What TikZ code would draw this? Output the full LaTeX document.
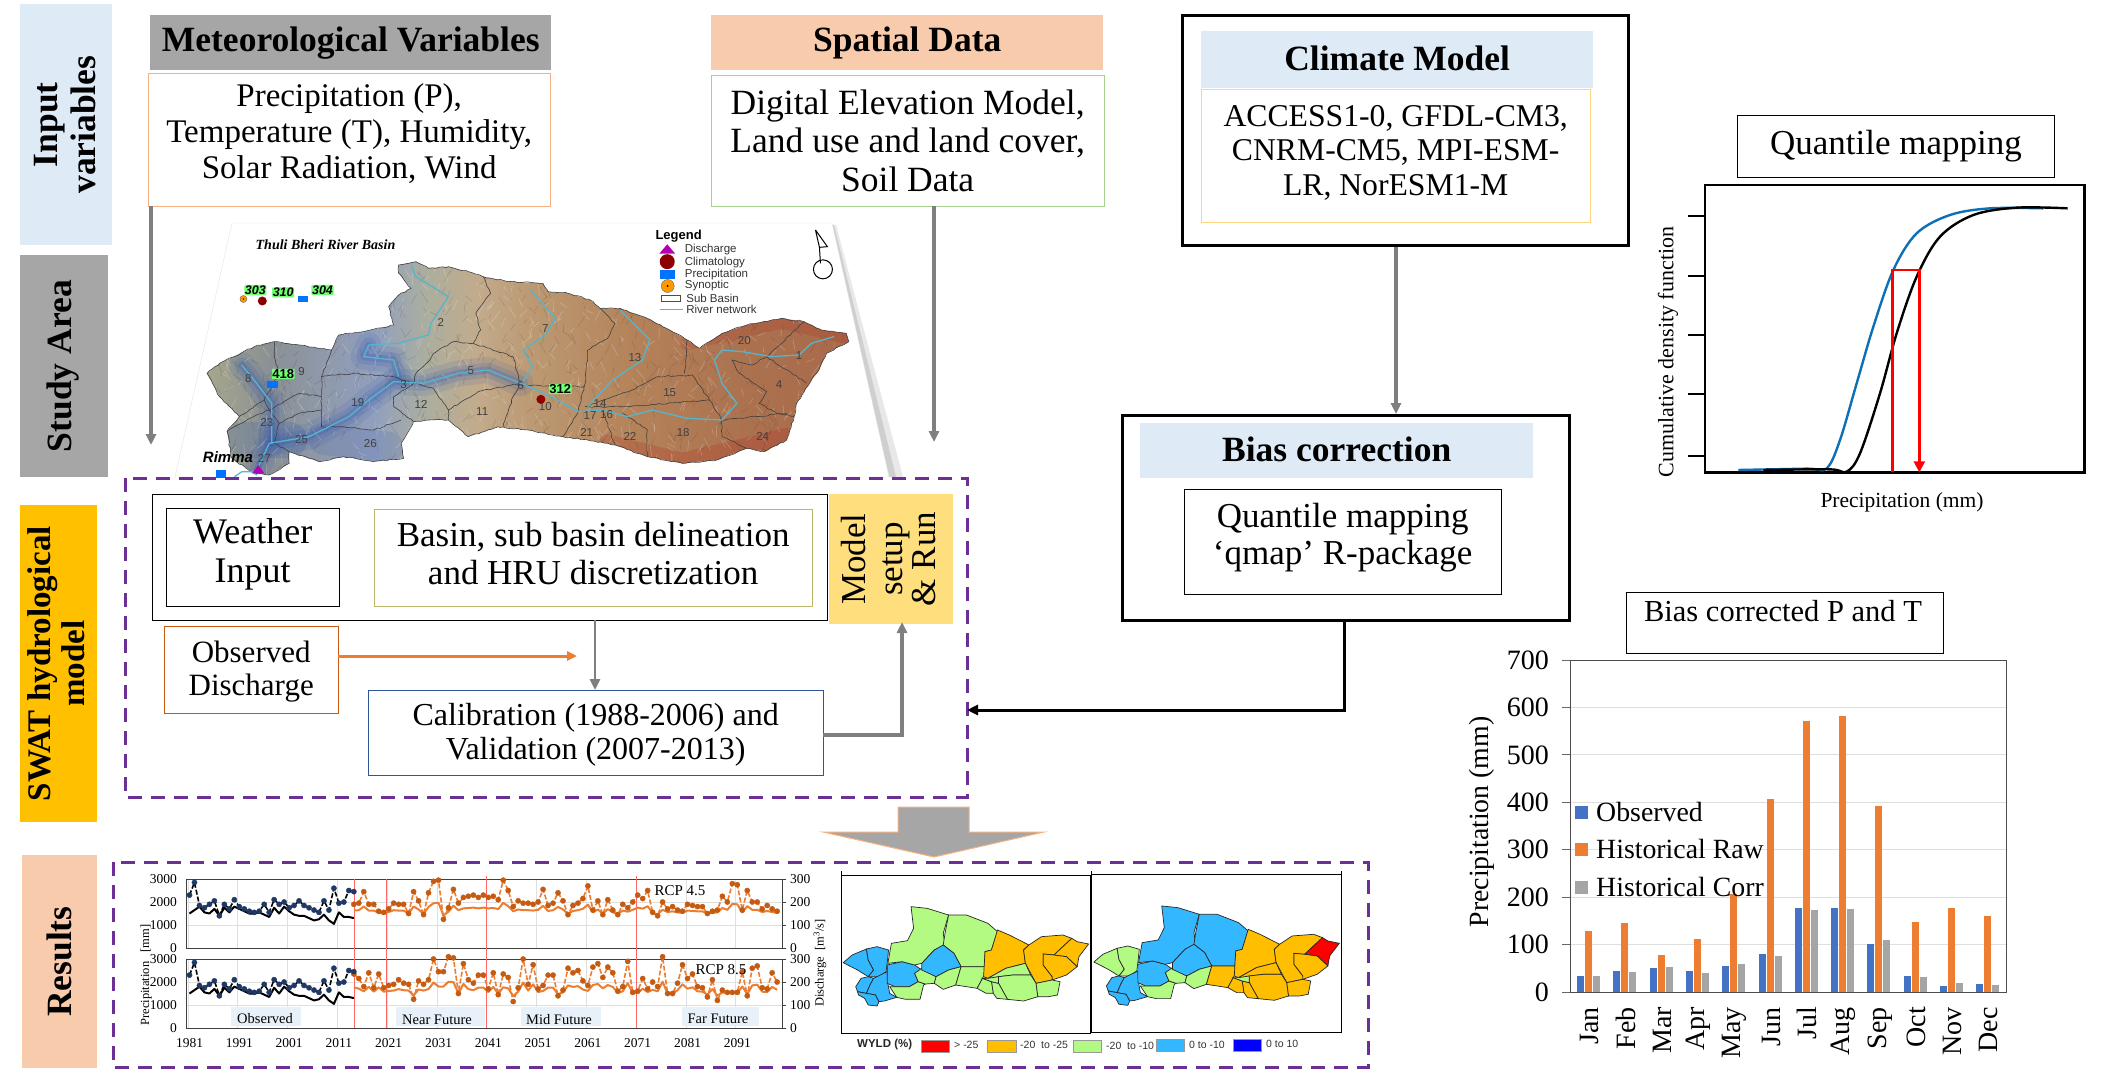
\documentclass[tikz,border=0pt]{standalone}
\usepackage{fontspec}
\setmainfont{Liberation Serif}
\setsansfont{Liberation Sans}
\usetikzlibrary{arrows.meta,shapes.geometric,calc,decorations.pathmorphing}
\definecolor{inblue}{HTML}{DEEBF7}
\definecolor{grayhd}{HTML}{A6A6A6}
\definecolor{peach}{HTML}{F8CBAD}
\definecolor{gold}{HTML}{FFC000}
\definecolor{lgold}{HTML}{FFD966}
\definecolor{purp}{HTML}{6B2F96}
\definecolor{brd1}{HTML}{F4B183}
\definecolor{brd2}{HTML}{A9D18E}
\definecolor{brd3}{HTML}{FFE699}
\definecolor{brd4}{HTML}{C55A11}
\definecolor{brd5}{HTML}{2F5597}
\definecolor{brd6}{HTML}{BDB76B}
\definecolor{arrgray}{HTML}{7F7F7F}
\definecolor{mB}{HTML}{33B8FF}
\definecolor{mG}{HTML}{B3FA82}
\definecolor{mO}{HTML}{FFBE00}
\definecolor{ob}{HTML}{4472C4}
\definecolor{or}{HTML}{ED7D31}
\definecolor{gr}{HTML}{A5A5A5}
\definecolor{navy1}{HTML}{1F3864}
\definecolor{dor}{HTML}{C55A11}
\definecolor{riv}{HTML}{56B4CC}
\definecolor{line1}{HTML}{0F6FB5}
\definecolor{tA}{HTML}{A6A78C}
\definecolor{tB}{HTML}{8A9094}
\definecolor{tC}{HTML}{8F99AA}
\definecolor{tD}{HTML}{919FBE}
\definecolor{tE}{HTML}{ABAE9F}
\definecolor{tF}{HTML}{C2AB8C}
\definecolor{tG}{HTML}{BC9A74}
\definecolor{tH}{HTML}{B4835A}
\definecolor{tI}{HTML}{AC7350}
\definecolor{tJ}{HTML}{A8694A}
\definecolor{valley}{HTML}{2F55B0}
\pgfdeclarehorizontalshading{terrain}{100bp}{
 color(0bp)=(tA);
 color(25bp)=(tA);
 color(30bp)=(tB);
 color(34bp)=(tC);
 color(38bp)=(tD);
 color(42bp)=(tE);
 color(46bp)=(tF);
 color(50bp)=(tG);
 color(58bp)=(tH);
 color(66bp)=(tI);
 color(75bp)=(tJ);
 color(100bp)=(tJ)}
\tikzset{
 fx/.code={\pgfmathsetmacro\fb{#1*1.08}\edef\tmpf{\noexpand\tikzset{font=\noexpand\fontsize{#1}{\fb}\noexpand\selectfont}}\tmpf},
 tbox/.style={draw,anchor=north west,inner sep=0pt,align=center},
 tx/.style={inner sep=0pt,align=center},
 hd/.style={anchor=north west,inner sep=0pt,align=center,font=\fontsize{35.5}{38}\selectfont\bfseries},
 sidebar/.style={anchor=north west,inner sep=0pt},
 sidetext/.style={rotate=90,align=center,font=\fontsize{35.5}{38}\selectfont\bfseries},
 garrow/.style={draw=arrgray,line width=3.2pt,-{Triangle[length=11pt,width=10pt]}},
 pdash/.style={draw=purp,line width=3pt,dash pattern=on 14pt off 9pt},
 reg/.style={draw=black!70!gray,line width=.7pt},
 stn/.style={font=\fontsize{12.5}{13}\selectfont\sffamily\bfseries\itshape,fill=green!55!white,inner sep=.6pt,rounded corners=1pt},
 snum/.style={font=\fontsize{11.5}{12}\selectfont\sffamily,text=black!75,inner sep=0pt},
 leg/.style={font=\fontsize{11.5}{12}\selectfont\sffamily,anchor=west,inner sep=0pt,text=black!80},
 subl/.style={draw=black!75,line width=.6pt,decorate,decoration={random steps,segment length=3.5pt,amplitude=.7pt}},
 rivl/.style={draw=riv,line width=1.3pt,line join=round},
 tick/.style={font=\fontsize{13.5}{14}\selectfont,inner sep=0pt},
 wl/.style={font=\fontsize{10.5}{11}\selectfont\sffamily,anchor=west,inner sep=0pt,text=black!80},
 mon/.style={rotate=90,anchor=east,font=\fontsize{28}{28}\selectfont,inner sep=0pt},
 ylab/.style={anchor=east,font=\fontsize{28}{28}\selectfont,inner sep=0pt},
}
\newcommand\smallmap[9]{%
 \begin{scope}[shift={(820+#1,800+#2)},x=0.35714pt,y=-0.33333pt]
 \filldraw[reg,fill=#3] (65,488)--(90,465)--(130,447)--(135,480)--(150,510)--(135,530)--(105,510)--cycle;
 \filldraw[reg,fill=#3] (130,447)--(160,440)--(192,450)--(188,490)--(185,515)--(165,530)--(135,530)--(150,510)--(135,480)--cycle;
 \filldraw[reg,fill=#4] (135,530)--(150,535)--(140,555)--(130,580)--(105,575)--(100,560)--(115,535)--cycle;
 \filldraw[reg,fill=#4] (150,535)--(188,515)--(190,550)--(195,580)--(215,592)--(180,603)--(165,605)--(155,585)--(130,580)--(140,555)--cycle;
 \filldraw[reg,fill=#4] (130,580)--(155,585)--(165,605)--(160,618)--(135,615)--(125,595)--(108,585)--(105,575)--cycle;
 \filldraw[reg,fill=#4] (188,495)--(230,485)--(265,495)--(285,510)--(265,520)--(275,545)--(250,560)--(210,560)--(188,550)--cycle;
 \filldraw[reg,fill=mG] (195,560)--(210,560)--(250,560)--(275,545)--(295,552)--(290,555)--(280,598)--(240,598)--(215,592)--cycle;
 \filldraw[reg,fill=mG] (265,520)--(285,505)--(325,530)--(320,550)--(295,552)--(275,545)--cycle;
 \filldraw[reg,fill=#5] (190,490)--(200,430)--(245,422)--(262,385)--(255,320)--(300,325)--(360,345)--(345,400)--(350,435)--(320,450)--(285,490)--(265,495)--(230,485)--cycle;
 \filldraw[reg,fill=#5] (360,345)--(410,345)--(470,370)--(497,395)--(480,450)--(462,455)--(460,500)--(395,500)--(375,460)--(345,435)--(350,400)--cycle;
 \filldraw[reg,fill=mB] (285,490)--(320,450)--(345,435)--(375,460)--(395,500)--(360,510)--(325,530)--(285,510)--cycle;
 \filldraw[reg,fill=mG] (325,530)--(360,510)--(395,500)--(380,555)--(345,568)--(320,550)--cycle;
 \filldraw[reg,fill=#6] (395,500)--(460,500)--(462,520)--(455,535)--(440,565)--(380,555)--cycle;
 \filldraw[reg,fill=mO] (497,390)--(530,405)--(585,435)--(570,450)--(575,490)--(520,505)--(470,535)--(458,530)--(462,455)--(480,450)--cycle;
 \filldraw[reg,fill=mO] (585,435)--(620,410)--(680,405)--(705,415)--(655,465)--(625,462)--(625,495)--(650,530)--(650,540)--(605,550)--(575,490)--(570,450)--cycle;
 \filldraw[reg,fill=#7] (705,415)--(720,425)--(752,432)--(725,470)--(720,500)--(690,470)--(655,465)--cycle;
 \filldraw[reg,fill=mO] (625,462)--(655,465)--(690,470)--(720,500)--(690,525)--(650,540)--(650,530)--(625,495)--cycle;
 \filldraw[reg,fill=#8] (470,535)--(520,505)--(575,490)--(590,525)--(540,525)--(500,530)--(480,535)--cycle;
 \filldraw[reg,fill=#8] (500,550)--(500,530)--(540,525)--(590,525)--(605,550)--(610,590)--(570,603)--(525,598)--cycle;
 \filldraw[reg,fill=#8] (605,550)--(650,540)--(672,545)--(665,585)--(640,590)--(610,590)--cycle;
 \filldraw[reg,fill=#8] (480,545)--(500,550)--(525,598)--(495,595)--(485,580)--cycle;
 \filldraw[reg,fill=#8] (440,565)--(455,535)--(480,545)--(485,580)--(465,580)--cycle;
 \filldraw[reg,fill=#9] (455,535)--(470,535)--(500,530)--(500,550)--(480,545)--cycle;
 \end{scope}}
\newcommand\mkseries[3]{%
 \gdef\pth{}\foreach \v [count=\i from 0] in #2 {%
  \pgfmathsetmacro\xx{189.5+4.98*(#1+\i-1981)}%
  \pgfmathsetmacro\yy{#3-\v*0.023}%
  \xdef\pth{\pth (\xx,\yy)}}}
\newcommand\mkfuture[3]{%
 \gdef\pth{}\foreach \v [count=\i from 0] in #2 {%
  \pgfmathsetmacro\xx{189.5+4.98*(#1+\i-1981)}%
  \pgfmathsetmacro\yy{#3-(1020+0.32*\v)*0.023}%
  \xdef\pth{\pth (\xx,\yy)}}}
\newcommand\chartpanel[2]{%
 \mkfuture{2014}{#2}{#1}
 \draw[or,line width=2pt,line join=round] plot coordinates {\pth};
 \mkseries{2014}{#2}{#1}
 \draw[or,line width=1.6pt,dash pattern=on 5pt off 2pt,line join=round] plot coordinates {\pth};
 \fill[dor] plot[only marks,mark=*,mark size=2.6pt] coordinates {\pth};
 \mkseries{1981}{\obsS}{#1}
 \draw[black,line width=2pt,line join=round] plot coordinates {\pth};
 \mkseries{1981}{\obsD}{#1}
 \draw[black,line width=1.6pt,dash pattern=on 5pt off 2pt,line join=round] plot coordinates {\pth};
 \fill[navy1] plot[only marks,mark=*,mark size=2.6pt] coordinates {\pth};
}
\def\obsD{2300,2850,1850,1750,1900,2050,1400,1900,1700,2100,1800,1700,1600,1550,1600,1900,1550,2100,1900,2000,1750,1850,2050,1850,1750,1650,1550,2050,1650,2600,1950,2000,2500,2450}
\def\obsS{1500,1650,1800,1550,1500,1700,1400,1750,1550,1800,1700,1600,1500,1500,1550,1450,1350,1750,1500,1800,1600,1450,1400,1400,1300,1200,1250,1450,1200,1050,1550,1350,1350,1300}
\def\fA{1900,1950,2450,1900,1900,1600,1550,1700,1950,1900,1900,1500,2450,2050,1450,2400,2900,2950,1250,1750,2550,1950,2200,2250,2300,2200,2300,2200,2250,2100,2950,2500,1800,2050,1950,1950,1900,2000,2550,1850,1950,2400,2050,1450,1850,1950,2150,2700,1650,2050,1450,2100,1650,1450,1900,1750,2000,2300,2150,2500,1550,1400,2000,1700,1800,1650,1600,1900,1850,1800,1800,1500,1600,1650,2250,2000,2800,2750,1650,2500,2000,2000,1700,1850,1700,1600}
\def\fB{2350,2150,1800,2400,1750,2350,1750,1850,1900,2100,1950,1900,1250,2050,1900,2100,3000,2450,2450,3100,3050,1500,2800,2100,1950,2300,2300,1700,2400,1450,2350,2200,1150,1750,3000,1900,2750,1700,1850,2300,2300,1400,1650,2600,2400,2500,2050,1850,2650,2800,2200,2650,2400,1600,1800,2900,1550,1600,2150,1700,2000,1800,3100,1500,1500,1950,2750,2150,2350,1800,1750,1350,2100,1200,1650,1550,1550,1550,2450,1400,2600,2700,1750,1700,2400,2000}
\def\basinout{(540,165)--(575,155)--(600,175)--(640,170)--(680,185)--(710,200)--(760,215)--(830,220)--(840,245)--(880,250)--(925,270)--(945,295)--(985,295)--(1040,325)--(1085,360)--(1120,390)--(1145,415)--(1190,370)--(1240,345)--(1310,325)--(1355,335)--(1390,360)--(1440,370)--(1445,395)--(1400,430)--(1385,480)--(1370,510)--(1340,580)--(1335,620)--(1320,690)--(1275,725)--(1240,715)--(1180,750)--(1110,760)--(1040,740)--(975,705)--(920,690)--(870,680)--(800,660)--(740,650)--(680,680)--(640,630)--(600,630)--(570,635)--(545,700)--(550,745)--(490,755)--(430,740)--(380,755)--(320,725)--(320,760)--(280,795)--(250,790)--(205,745)--(195,665)--(220,620)--(180,560)--(155,490)--(180,460)--(250,410)--(290,395)--(340,405)--(405,420)--(420,375)--(470,365)--(530,345)--(520,290)--(540,255)--(565,235)--(540,190)--cycle}
\begin{document}
\begin{tikzpicture}[x=1pt,y=-1pt,line join=miter]
\useasboundingbox (0,0) rectangle (2112,1075);
\fill[white] (0,0) rectangle (2112,1075);
% side bars
\node[sidebar,fill=inblue,minimum width=92pt,minimum height=241pt] (barI) at (20,4) {};
\node[sidebar,fill=grayhd,minimum width=88pt,minimum height=222pt] (barS) at (20,255) {};
\node[sidebar,fill=gold,minimum width=77pt,minimum height=317pt] (barW) at (20,505) {};
\node[sidebar,fill=peach,minimum width=75pt,minimum height=213pt] (barR) at (22,855) {};
\node[sidetext] (tIn) at ($(barI.center)+(-1,0)$) {Input\\variables};
\node[sidetext] (tSt) at ($(barS.center)+(-1,0)$) {Study Area};
\node[sidetext,font=\fontsize{33}{34}\selectfont\bfseries] (tSw) at ($(barW.center)+(-2,0)$) {SWAT hydrological\\model};
\node[sidetext] (tRe) at (barR.center) {Results};
% study area sheet
\fill[gray!18] (832,225)--(836,225)--(903,477)--(889,477)--cycle;
\fill[gray!38] (832,225)--(834,225)--(896,477)--(889,477)--cycle;
\filldraw[fill=white,draw=gray!22] (232,223)--(832,223)--(889,477)--(175,477)--cycle;
\begin{scope}[shift={(130,210)},x=0.49744pt,y=-0.33333pt]
 \begin{scope}
  \clip \basinout;
  \path[shading=terrain,shading angle=0] (155,150) rectangle (1445,800);
  \foreach \w/\o in {26/.12,15/.16,7/.22}{
   \draw[valley,opacity=\o,line width=\w pt,line cap=round,line join=round] (255,780)--(280,700)--(360,680)--(440,620)--(480,570)--(530,515)--(590,520)--(660,490)--(720,480)--(785,520);
   \draw[valley,opacity=\o,line width=\w pt,line cap=round,line join=round] (225,465)--(260,530)--(285,580)--(285,700);
   \draw[valley,opacity=\o,line width=\w pt,line cap=round,line join=round] (480,405)--(470,440)--(530,450)--(540,500);
  }
  \draw[valley,opacity=.2,line width=36pt,line cap=round] (230,690)--(320,690);
  \draw[valley,opacity=.14,line width=30pt,line cap=round] (390,690)--(520,710);
  \draw[red!70!black,opacity=.16,line width=18pt,line cap=round,line join=round] (960,700)--(1110,755)--(1240,710)--(1320,680);
  \draw[red!70!black,opacity=.12,line width=14pt,line cap=round,line join=round] (1120,400)--(1310,335)--(1440,380);
  \pgfmathsetseed{11}
  \foreach \k in {1,...,620}{
   \pgfmathsetmacro\pa{150+1300*rnd}\pgfmathsetmacro\pb{150+650*rnd}\pgfmathsetmacro\pc{\pa+(rnd-.5)*34}\pgfmathsetmacro\pd{\pb+10+rnd*26}
   \draw[white,opacity=.24,line width=.6pt] (\pa,\pb)--(\pc,\pd);
   \pgfmathsetmacro\pa{150+1300*rnd}\pgfmathsetmacro\pb{150+650*rnd}\pgfmathsetmacro\pc{\pa+(rnd-.5)*34}\pgfmathsetmacro\pd{\pb+10+rnd*26}
   \draw[black,opacity=.12,line width=.6pt] (\pa,\pb)--(\pc,\pd);
  }
 \end{scope}
 \draw[subl] \basinout;
 % sub basin boundaries
 \draw[subl] (710,200)--(725,250)--(695,310)--(705,360)--(690,400)--(650,395)--(610,430)--(600,455)--(575,490)--(570,520)--(530,560)--(530,590)--(570,635);
 \draw[subl] (405,420)--(385,500)--(385,650)--(430,650)--(490,660)--(545,630);
 \draw[subl] (290,395)--(290,440)--(300,490)--(270,570)--(220,620);
 \draw[subl] (270,570)--(280,600)--(340,550)--(385,560);
 \draw[subl] (195,665)--(240,625)--(280,600)--(300,640)--(290,700)--(320,725);
 \draw[subl] (300,640)--(340,610)--(385,600);
 \draw[subl] (385,500)--(450,490)--(530,500)--(575,520)--(610,535)--(640,600)--(640,630);
 \draw[subl] (690,400)--(770,440)--(785,520)--(770,560)--(750,650);
 \draw[subl] (785,520)--(700,545)--(640,600);
 \draw[subl] (945,295)--(975,340)--(960,385)--(920,420)--(915,520)--(900,610)--(870,680);
 \draw[subl] (785,525)--(915,530);
 \draw[subl] (1120,390)--(1115,490);
 \draw[subl] (915,590)--(1010,540)--(1060,500)--(1130,495)--(1165,570)--(1190,630)--(1190,680)--(1240,715);
 \draw[subl] (915,590)--(1000,590)--(1165,570);
 \draw[subl] (950,600)--(975,705);
 \draw[subl] (990,610)--(1040,660)--(1040,740);
 \draw[subl] (1190,630)--(1320,610);
 \draw[subl] (1210,450)--(1250,465)--(1280,440)--(1355,335);
 \draw[subl] (1280,440)--(1360,520);
 \draw[subl] (1210,450)--(1225,490)--(1280,545)--(1265,580)--(1300,610)--(1335,620);
 % rivers
 \draw[rivl] (1415,380)--(1370,400)--(1345,435)--(1290,440)--(1230,425)--(1190,420)--(1175,450)--(1190,520)--(1220,580)--(1190,630)--(1120,625)--(1050,600)--(1000,620)--(950,600)--(900,605)--(860,570)--(810,535)--(785,520)--(720,480)--(660,490)--(590,520)--(530,515)--(480,570)--(440,620)--(360,680)--(280,700)--(255,780);
 \draw[rivl] (565,165)--(575,200)--(640,260)--(605,340)--(600,375)--(540,400)--(480,405)--(470,440)--(530,450)--(540,500);
 \draw[rivl] (805,240)--(855,325)--(835,375)--(790,420)--(810,470)--(785,525);
 \draw[rivl] (985,300)--(1045,390)--(1030,450)--(970,510)--(920,590);
 \draw[rivl] (225,465)--(260,530)--(285,580)--(285,700);
 \draw[rivl] (210,800)--(225,785)--(245,785)--(255,795);
 % sub basin numbers
 \foreach \nx/\ny/\nn in {625/338/2,835/355/7,1015/442/13,1235/393/20,1345/436/1,345/484/9,238/505/8,550/525/3,685/482/5,785/528/6,1085/548/15,1305/525/4,458/577/19,585/584/12,708/606/11,835/591/10,945/582/14,925/618/17,958/613/16,275/637/23,345/690/25,483/700/26,918/668/21,1005/680/22,1112/667/18,1272/680/24,270/745/27}
  \node[snum] (n\nn) at (\nx,\ny) {\nn};
 % stations
 \node[stn] (s303) at (252,240) {303};
 \node[stn] (s310) at (308,247) {310};
 \node[stn] (s304) at (387,240) {304};
 \node[stn,font=\fontsize{13}{14}\selectfont\sffamily\bfseries] (s418) at (308,492) {418};
 \node[stn,font=\fontsize{13}{14}\selectfont\sffamily\bfseries] (s312) at (865,537) {312};
 \node[font=\fontsize{15}{16}\selectfont\sffamily\bfseries\itshape,inner sep=0] (rim) at (197,742) {Rimma};
 \filldraw[fill=orange!80!yellow,draw=black!60,line width=.4pt] (228,267) circle (3.5pt);
 \fill[black] (228,267) circle (.8pt);
 \fill[red!55!black] (266,273) circle (4.5pt);
 \fill[blue!55!cyan] (338,258) rectangle (358,275);
 \fill[blue!55!cyan] (275,512) rectangle (297,533);
 \fill[red!55!black] (826,568) circle (4.5pt);
 \fill[blue!55!cyan] (172,781) rectangle (192,803);
 \fill[violet!60!magenta] (258,765)--(270,790)--(246,790)--cycle;
 % legend
 \node[font=\fontsize{13}{14}\selectfont\sffamily\bfseries,anchor=west,inner sep=0] (lgt) at (1056,78) {Legend};
 \node[leg] (l1) at (1115,118) {Discharge};
 \node[leg] (l2) at (1115,157) {Climatology};
 \node[leg] (l3) at (1115,194) {Precipitation};
 \node[leg] (l4) at (1115,228) {Synoptic};
 \node[leg] (l5) at (1118,265) {Sub Basin};
 \node[leg] (l6) at (1118,297) {River network};
 \fill[violet!60!magenta] (1080,103)--(1096,131)--(1064,131)--cycle;
 \fill[red!55!black] (1080,155) circle (7.5pt);
 \fill[blue!55!cyan] (1065,180) rectangle (1096,208);
 \filldraw[fill=orange!80!yellow,draw=black!60,line width=.4pt] (1081,228) circle (6.5pt);
 \fill[black] (1081,228) circle (1pt);
 \draw[black!70,fill=white,line width=.7pt] (1068,256) rectangle (1106,274);
 \draw[rivl] (1065,298)--(1112,298);
 \node[font=\fontsize{14}{15}\selectfont\bfseries\itshape,inner sep=0] (ttl) at (393,103) {Thuli Bheri River Basin};
 % north arrow
 \draw[black,line width=1pt] (1378,60)--(1402,110)--(1386,112)--(1388,160) (1378,60)--(1386,112);
 \draw[black,line width=1pt] (1393,178) circle (9.5pt);
\end{scope}
% meteorological
\node[hd,fill=grayhd,minimum width=401pt,minimum height=55pt] (methd) at (150,15) {\raisebox{3pt}{Meteorological Variables}};
\node[tbox,draw=brd1,minimum width=402pt,minimum height=133pt] (met) at (148,73) {};
\node[tx,fx=33] (mett) at ($(met.center)+(0,-6)$) {Precipitation (P),\\Temperature (T), Humidity,\\Solar Radiation, Wind};
\node[hd,fill=peach,minimum width=392pt,minimum height=55pt] (spahd) at (711,15) {Spatial Data};
\node[tbox,draw=brd2,minimum width=393pt,minimum height=131pt] (spa) at (711,75) {};
\node[tx,fx=35.5] (spat) at (spa.center) {Digital Elevation Model,\\Land use and land cover,\\Soil Data};
% climate
\node[tbox,line width=2.6pt,minimum width=446pt,minimum height=230pt] (clim) at (1181,14) {};
\node[hd,fill=inblue,minimum width=392pt,minimum height=57pt] (climhd) at (1201,31) {\raisebox{3pt}{Climate Model}};
\node[tbox,draw=brd3!85!orange,minimum width=389pt,minimum height=133pt] (climin) at (1201,89) {};
\node[tx,fx=31.7] (climt) at ($(climin.center)+(0,-3)$) {ACCESS1-0, GFDL-CM3,\\CNRM-CM5, MPI-ESM-\\LR, NorESM1-M};
% bias
\node[tbox,line width=2.6pt,minimum width=447pt,minimum height=205pt] (bias) at (1121,414) {};
\node[hd,fill=inblue,minimum width=393pt,minimum height=55pt] (biashd) at (1140,423) {\raisebox{3pt}{Bias correction}};
\node[tbox,minimum width=317pt,minimum height=105pt] (biasin) at (1184,489) {};
\node[tx,fx=35] (biast) at ($(biasin.center)+(0,-4)$) {Quantile mapping\\‘qmap’ R-package};
% SWAT
\draw[pdash] (125,478) rectangle (967,797);
\coordinate (swatR) at (967,710);
\node[tbox,line width=1.1pt,minimum width=675pt,minimum height=126pt] (inner) at (152,494) {};
\node[tbox,minimum width=173pt,minimum height=98pt] (wea) at (166,508) {};
\node[tx,fx=36] (weat) at ($(wea.center)+(0,-3)$) {Weather\\Input};
\node[tbox,draw=brd6,minimum width=438pt,minimum height=97pt] (bas) at (374,509) {};
\node[tx,fx=35] (bast) at ($(bas.center)+(0,-4)$) {Basin, sub basin delineation\\and HRU discretization};
\node[tbox,draw=none,fill=lgold!85!white,minimum width=124pt,minimum height=130pt] (mod) at (829,494) {};
\node[rotate=90,align=center,inner sep=0,font=\fontsize{35}{37}\selectfont] (modt) at (889,559) {Model\\setup\\[-4pt]\& Run};
\node[tbox,draw=brd4,minimum width=174pt,minimum height=87pt] (obsd) at (164,626) {};
\node[tx,fx=31] (obst) at ($(obsd.center)+(0,2)$) {Observed\\Discharge};
\node[tbox,draw=brd5,minimum width=455pt,minimum height=85pt] (cal) at (368,690) {};
\node[tx,fx=32] (calt) at ($(cal.center)+(0,2)$) {Calibration (1988-2006) and\\Validation (2007-2013)};
% connectors
\coordinate (a1) at (151,445);
\coordinate (a2) at (934,442);
\coordinate (a3) at (1396,412);
\draw[garrow] (met.south -| a1) -- (a1);
\draw[garrow] (spa.south -| a2) -- (a2);
\draw[garrow] (clim.south -| a3) -- (bias.north -| a3);
\coordinate (b1) at (1344,710);
\draw[line width=3pt,-{Triangle[length=11pt,width=10pt]}] (bias.south -| b1) -- (b1) -- (swatR);
\coordinate (c1) at (577,656);
\draw[draw=or,line width=3pt,-{Triangle[length=10pt,width=9pt]}] (obsd.east |- c1) -- (c1);
\coordinate (c2) at (595,620);
\draw[garrow,line width=2.6pt] (c2) -- (c2 |- cal.north);
\coordinate (c3) at (902,735);
\coordinate (c4) at (902,622);
\draw[garrow,line width=3.4pt] (cal.east |- c3) -- (c3) -- (c4);
% big arrow
\filldraw[fill=grayhd,draw=brd1,line width=1pt] (898,807)--(969,807)--(969,832)--(1044,832)--(934,857)--(823,832)--(898,832)--cycle;
% results
\draw[pdash] (113,862) rectangle (1368,1067);
% line charts
\foreach \py in {879,959}{
 \foreach \yr in {1981,1991,...,2091}{\draw[gray!25,line width=.7pt] ({188+4.98*(\yr-1981)},\py) -- ({188+4.98*(\yr-1981)},\py+69);}
 \draw[gray!25,line width=1pt] (186,\py+23) -- (782,\py+23) (186,\py+46) -- (782,\py+46);
 \draw[black!75,line width=1pt] (186,\py+69) -- (186,\py) -- (782,\py) -- (782,\py+69) -- cycle;
 \foreach \tt in {0,23,46,69}{\draw[black!75] (783,\py+\tt) -- (786,\py+\tt);}
}
\fill[inblue!70!white] (231,1007) rectangle (301,1026);
\fill[inblue!70!white] (396,1007) rectangle (485,1026);
\fill[inblue!70!white] (521,1007) rectangle (601,1026);
\fill[inblue!70!white] (682,1007) rectangle (759,1026);
\foreach \rx/\ry in {354/879,386/879,486/876,636/876}{\draw[red!60!white,line width=.7pt] (\rx,\ry) -- (\rx,1028);}
\chartpanel{948}{\fA}
\chartpanel{1028}{\fB}
\foreach \lab/\ly in {3000/879,2000/902,1000/925,0/948,3000/959,2000/982,1000/1005,0/1028}{\node[tick,anchor=east] (tl\lab\ly) at (177,\ly) {\lab};}
\foreach \lab/\ly in {300/879,200/902,100/925,0/948,300/959,200/982,100/1005,0/1028}{\node[tick,anchor=west] (tr\lab\ly) at (790,\ly) {\lab};}
\foreach \yr in {1981,1991,...,2091}{\node[tick] (ty\yr) at ({189.5+4.98*(\yr-1981)},1043) {\yr};}
\node[tick,font=\fontsize{15}{16}\selectfont] (rc1) at (680,891) {RCP 4.5};
\node[tick,font=\fontsize{15}{16}\selectfont] (rc2) at (721,970) {RCP 8.5};
\node[rotate=90,font=\fontsize{12.5}{13}\selectfont,inner sep=0] (yl1) at (146,975) {Precipitation~~~[mm]};
\node[rotate=90,font=\fontsize{12.5}{13}\selectfont,inner sep=0] (yl2) at (820,963) {Discharge~~[m\textsuperscript{3}/s]};
\node[tick,font=\fontsize{14.5}{15}\selectfont] (of1) at (265,1019) {Observed};
\node[tick,font=\fontsize{14.5}{15}\selectfont] (of2) at (437,1020) {Near Future};
\node[tick,font=\fontsize{14.5}{15}\selectfont] (of3) at (559,1020) {Mid Future};
\node[tick,font=\fontsize{14.5}{15}\selectfont] (of4) at (718,1019) {Far Future};
% small maps
\draw[black,line width=.9pt] (841,871) -- (841,1033) -- (1090,1033) -- (1090,875) -- (841,875);
\draw[black,line width=.9pt] (1091,871) -- (1091,1032) -- (1341,1032) -- (1341,874) -- (1091,874) (1341,874) -- (1341,871);
\smallmap{0}{0}{mB}{mB}{mG}{mG}{mO}{mG}{mG}
\smallmap{250.7}{-.7}{mG}{mB}{mB}{mO}{red}{mO}{mG}
\node[font=\fontsize{11.5}{12}\selectfont\sffamily\bfseries,anchor=west,inner sep=0,text=black!85] (wy) at (857,1045) {WYLD (\%)};
\filldraw[fill=red,draw=black!40] (921,1040) rectangle (949,1052);
\filldraw[fill=mO,draw=black!40] (987,1040) rectangle (1016,1052);
\filldraw[fill=mG,draw=black!40] (1073,1040) rectangle (1101,1052);
\filldraw[fill=mB,draw=black!40] (1156,1039) rectangle (1184,1051);
\filldraw[fill=blue,draw=black!40] (1233,1039) rectangle (1261,1051);
\node[wl] (w1) at (954,1045) {> -25};
\node[wl] (w2) at (1020,1045) {-20~ to -25};
\node[wl] (w3) at (1106,1046) {-20~ to -10};
\node[wl] (w4) at (1189,1045) {0 to -10};
\node[wl] (w5) at (1266,1044) {0 to 10};
% quantile mapping
\node[tbox,line width=.8pt,minimum width=317pt,minimum height=62pt,fx=35] (qm) at (1737,115) {\raisebox{3pt}{Quantile mapping}};
\begin{scope}[shift={(1640,100)},x=0.33333pt,y=-0.33333pt]
 \draw[line width=2.4pt] (195,255) rectangle (1333,1117);
 \foreach \ty in {348,528,705,883,1068}{\draw[line width=2pt] (145,\ty) -- (195,\ty);}
 \draw[line1,line width=2.4pt] plot[smooth,tension=.55] coordinates {(295,1110)(500,1106)(560,1105)(600,1020)(650,850)(700,680)(760,510)(830,400)(930,345)(1050,325)(1210,325)};
 \draw[black,line width=2.4pt] plot[smooth,tension=.55] coordinates {(370,1110)(570,1108)(620,1115)(660,1060)(720,880)(770,700)(830,530)(900,410)(1000,345)(1130,323)(1283,325)};
 \draw[red,line width=2.4pt,-{Triangle[length=11pt,width=11pt]}] (757,1117) -- (757,510) -- (838,510) -- (838,1117);
\end{scope}
\node[rotate=90,font=\fontsize{22}{23}\selectfont,inner sep=0] (qy) at (1668,352) {Cumulative density function};
\node[font=\fontsize{21.5}{22}\selectfont,inner sep=0] (qx) at (1902,502) {Precipitation (mm)};
% bar chart
\node[tbox,line width=.8pt,minimum width=317pt,minimum height=61pt] (bt) at (1626,592) {};
\node[font=\fontsize{30.5}{31}\selectfont,inner sep=0] (btt) at (1783,611) {Bias corrected P and T};
\foreach \g in {100,200,...,600}{\draw[gray!25,line width=1pt] (1570,{992-\g*0.4743}) -- (2006,{992-\g*0.4743});}
\foreach \g in {0,100,...,700}{
 \draw[black!60,line width=.8pt] (1562,{992-\g*0.4743}) -- (1570,{992-\g*0.4743});
 \node[ylab] (yt\g) at (1549,{992-\g*0.4743}) {\g};}
\foreach \va/\vb/\vc/\mm [count=\i from 0] in {33/128/33/Jan,44/146/42/Feb,50/78/53/Mar,44/111/40/Apr,55/207/59/May,80/406/76/Jun,178/572/172/Jul,178/581/176/Aug,102/392/110/Sep,33/148/31/Oct,12/178/20/Nov,16/161/14/Dec}{
 \pgfmathsetmacro\bx{1580.5+36.3*\i}
 \fill[ob] (\bx-3.5,992) rectangle (\bx+3.5,{992-\va*0.4743});
 \fill[or] (\bx+4.5,992) rectangle (\bx+11.5,{992-\vb*0.4743});
 \fill[gr] (\bx+12.5,992) rectangle (\bx+19.5,{992-\vc*0.4743});
 \node[mon] (m\mm) at (\bx+9,1007) {\mm};
}
\draw[black!70,line width=1pt] (1570,992) -- (1570,660) -- (2006,660) -- (2006,992) -- cycle;
\fill[ob] (1575,806) rectangle (1588,819);
\fill[or] (1575,843) rectangle (1588,856);
\fill[gr] (1575,881) rectangle (1588,894);
\node[font=\fontsize{27.8}{28}\selectfont,anchor=west,inner sep=0] (lg1) at (1596,812) {Observed};
\node[font=\fontsize{27.8}{28}\selectfont,anchor=west,inner sep=0] (lg2) at (1596,849) {Historical Raw};
\node[font=\fontsize{27.8}{28}\selectfont,anchor=west,inner sep=0] (lg3) at (1596,887) {Historical Corr};
\node[rotate=90,font=\fontsize{27.8}{28}\selectfont,inner sep=0] (by) at (1482,822) {Precipitation (mm)};
\end{tikzpicture}
\end{document}
